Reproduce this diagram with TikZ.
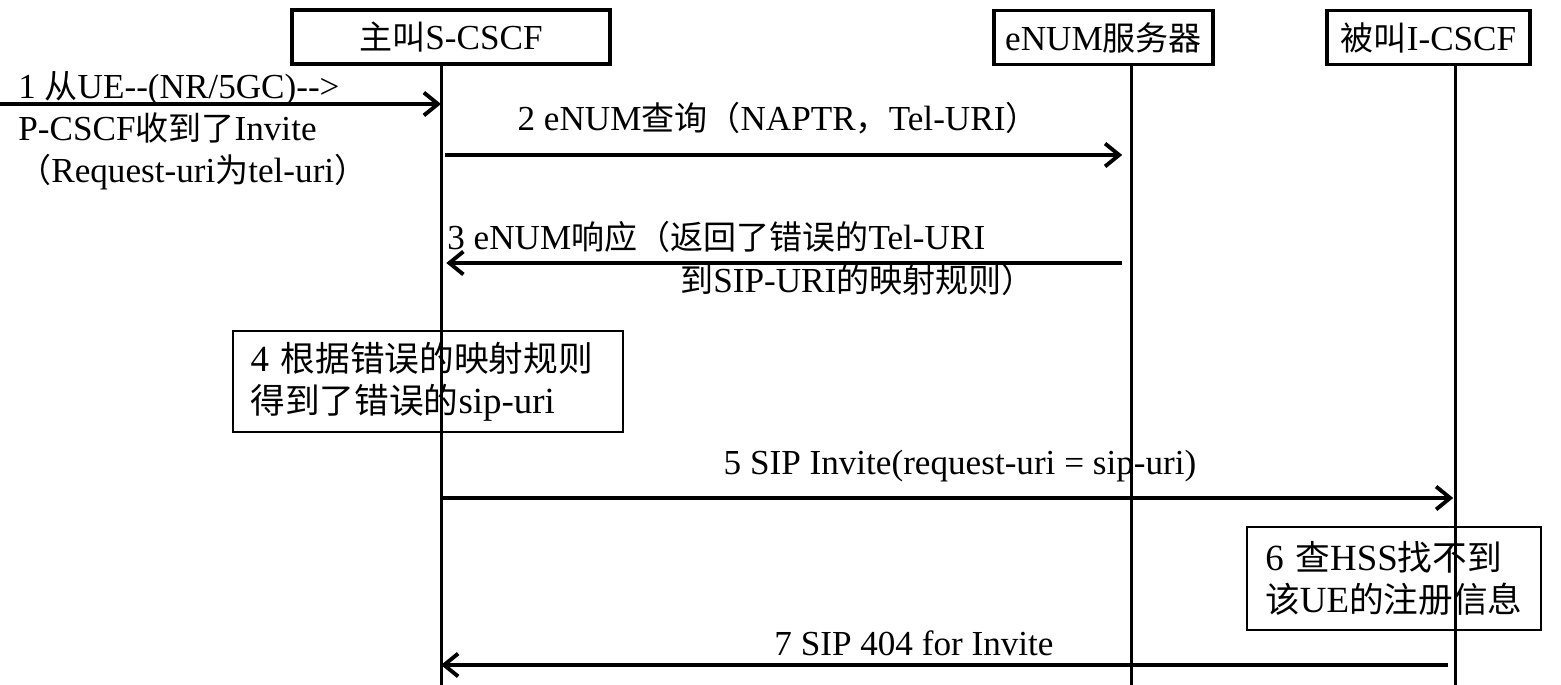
\documentclass[tikz,border=0pt]{standalone}
\usepackage{fontspec}
\setmainfont{Liberation Serif}
\newfontfamily\cjk{Noto Sans CJK SC}[Scale=0.94]
\newcommand{\zh}[1]{{\cjk #1}}
\usetikzlibrary{arrows.meta}

\tikzset{
  entity/.style={draw,line width=2.2pt,inner sep=0pt,minimum height=1.08cm},
  notebox/.style={draw,line width=1.2pt,inner xsep=0.35cm,inner ysep=0pt,align=left},
  lifeline/.style={line width=1.7pt},
  msg/.style={line width=2.2pt,-{Straight Barb[length=8pt,width=13pt]}},
  lbl/.style={inner sep=0pt}
}

\begin{document}
\begin{tikzpicture}[x=0.02cm,y=-0.02cm,font=\fontsize{20}{24}\selectfont]
  % 设置生命线的位置和消息的高度
  \def\xA{441}
  \def\xB{1131}
  \def\xC{1455}
  \def\yEnd{685}
  \def\yOne{104}
  \def\yTwo{155}
  \def\yThree{263}
  \def\yFive{498}
  \def\ySeven{665}

  \useasboundingbox (0,0) rectangle (1561,685);

  % 绘制三个网元
  \node[entity,minimum width=6.36cm] (scscf) at (451,37) {\zh{主叫}S-CSCF};
  \node[entity,minimum width=4.38cm] (enum) at (1103.5,37.5) {eNUM\zh{服务器}};
  \node[entity,minimum width=4.06cm] (icscf) at (1428.5,37.5) {\zh{被叫}I-CSCF};

  % 绘制生命线
  \coordinate (sBot) at (\xA,\yEnd);
  \coordinate (eBot) at (\xB,\yEnd);
  \coordinate (iBot) at (\xC,\yEnd);
  \draw[lifeline] (scscf.south -| sBot) -- (sBot);
  \draw[lifeline] (enum.south -| eBot) -- (eBot);
  \draw[lifeline] (icscf.south -| iBot) -- (iBot);

  % 第1步
  \coordinate (ueIn) at (0,\yOne);
  \draw[msg] (ueIn) -- (ueIn -| sBot);
  \node[lbl,anchor=west,align=left] (lblOne) at (18,131)
    {1 \zh{从}UE{-}{-}(NR/5GC){-}{-}>\\P-CSCF\zh{收到了}Invite\\\zh{（}Request-uri\zh{为}tel-uri\zh{）}};

  % 第2步
  \coordinate (m2) at (\xA,\yTwo);
  \draw[msg,shorten <=2pt,shorten >=5pt] (m2) -- (m2 -| eBot);
  \node[lbl,anchor=base] (lblTwo) at (778,131) {2 eNUM\zh{查询（}NAPTR\zh{，}Tel-URI\zh{）}};

  % 第3步
  \coordinate (m3) at (\xB,\yThree);
  \draw[msg,shorten <=5pt,shorten >=3pt] (m3) -- (m3 -| sBot);
  \node[lbl,anchor=base west] (lblThreeA) at (447,250) {3 eNUM\zh{响应（返回了错误的}Tel-URI};
  \node[lbl,anchor=base west] (lblThreeB) at (680,293) {\zh{到}SIP-URI\zh{的映射规则）}};

  % 第4步
  \node[notebox,minimum width=7.8cm,minimum height=2.02cm,text width=7.1cm] (noteFour) at (428,381.5)
    {\fontsize{21}{24}\selectfont 4 \zh{根据错误的映射规则}\\\zh{得到了错误的}sip-uri};

  % 第5步
  \coordinate (m5) at (\xA,\yFive);
  \draw[msg,shorten >=1pt] (m5) -- (m5 -| iBot);
  \node[lbl,anchor=base] (lblFive) at (960,475) {5 SIP Invite(request-uri = sip-uri)};

  % 第6步
  \node[notebox,minimum width=5.88cm,minimum height=2.06cm,text width=5.15cm] (noteSix) at (1394,578.5)
    {\fontsize{21}{24}\selectfont 6 \zh{查}HSS\zh{找不到}\\\zh{该}UE\zh{的注册信息}};

  % 第7步
  \coordinate (m7) at (\xC,\ySeven);
  \draw[msg,shorten <=4pt] (m7) -- (m7 -| sBot);
  \node[lbl,anchor=base] (lblSeven) at (914,655) {7 SIP 404 for Invite};
\end{tikzpicture}
\end{document}
